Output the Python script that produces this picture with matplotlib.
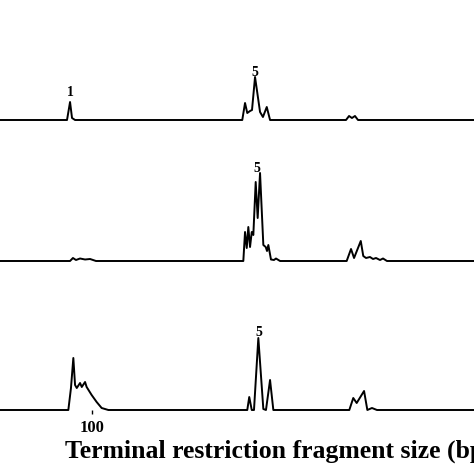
import matplotlib.pyplot as plt

plt.rcParams['font.family'] = ['Liberation Serif', 'DejaVu Serif']

# trace vertices: fragment size (bp) and fluorescence (relative units)
top_bp = [30, 80.9, 83.2, 84.7, 87.0, 214.0, 216.1, 217.8, 219.9, 221.4, 223.7, 227.5, 229.7, 232.6, 235.1,
          292.8, 295.1, 297.3, 299.6, 301.9, 390]
top_h = [0, 0, 18, 2, 0, 0, 17, 7, 9, 10, 43, 8, 3, 13, 0,
         0, 4, 2, 4, 0, 0]

mid_bp = [30, 83.2, 85.4, 87.7, 90.8, 94.6, 98.4, 102.9,
          214.8, 216.1, 217.4, 218.6, 219.9, 221.2, 222.4, 224.2, 225.7, 227.5, 230.0, 231.8, 232.8, 233.8,
          235.8, 238.1, 239.6, 242.7,
          293.3, 296.6, 298.9, 304.0, 305.9, 308.0, 311.0, 313.3, 315.6, 318.6, 320.9, 323.9, 390]
mid_h = [0, 0, 3, 1, 2.5, 1.5, 2, 0,
         0, 29, 13, 34, 14, 29, 26, 79, 43, 88, 16, 14, 10, 16,
         1.5, 1, 2.5, 0,
         0, 12, 3, 20, 5, 3, 4, 2, 3, 1, 2.5, 0, 0]

bot_bp = [30, 81.9, 83.9, 85.7, 87.0, 88.3, 90.8, 92.1, 94.6, 95.8, 99.6, 103.4, 107.2, 112.3,
          217.8, 219.3, 221.2, 222.9, 226.2, 230.0, 232.0, 235.1, 237.6,
          295.3, 298.3, 300.9, 306.5, 309.0, 312.5, 316.3, 390]
bot_h = [0, 0, 22, 52, 25, 22, 27, 23, 28, 23, 15, 8, 2, 0,
         0, 13, 0, 0, 72, 1, 0, 30, 0,
         0, 12, 7, 19, 0, 2, 0, 0]

traces = [(top_bp, top_h), (mid_bp, mid_h), (bot_bp, bot_h)]
offsets = [290, 149, 0]

# peak annotations: (trace index, bp, height, text)
peak_labels = [(0, 83.2, 27, '1'), (0, 223.7, 48, '5'), (1, 225.0, 93, '5'), (2, 226.9, 77, '5')]

fig = plt.figure(figsize=(4.74, 4.74), dpi=100)
ax = fig.add_axes([0, 64/474, 1, 410/474])

for (xs, hs), off in zip(traces, offsets):
    ax.plot(xs, [h + off for h in hs], color='black', lw=1.4, clip_on=False)

for i, x, h, t in peak_labels:
    ax.text(x, h + offsets[i], t, ha='center', va='center', fontsize=10, fontweight='bold')

ax.set_xlim(30, 390)
ax.set_ylim(0, 410)
for s in ax.spines.values():
    s.set_visible(False)
ax.set_yticks([])
ax.set_xticks([100])
ax.set_xticklabels(['100'], fontsize=12, fontweight='bold')
ax.tick_params(axis='x', length=3, width=1, pad=4)

fig.text(65/474, 1 - 451/474, 'Terminal restriction fragment size (bp)',
         ha='left', va='center', fontsize=18.5, fontweight='bold')

fig.savefig('out.png', dpi=100)
